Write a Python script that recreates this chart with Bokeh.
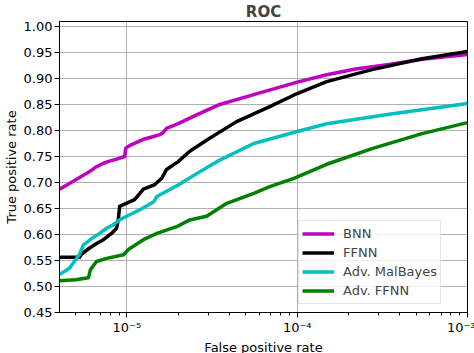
from bokeh.plotting import figure
from bokeh.models import FixedTicker, PrintfTickFormatter, Legend, LegendItem, Range1d
from bokeh.embed import file_html
from bokeh.resources import INLINE

# ---- data ----
bnn_fpr = [4.02e-6, 4.6e-6, 5.3e-6, 6.04e-6, 6.6e-6, 7.29e-6, 7.9e-6, 8.7e-6, 9.7e-6, 9.85e-6,
           1.05e-5, 1.25e-5, 1.42e-5, 1.56e-5, 1.62e-5, 1.71e-5, 2.0e-5, 2.57e-5, 3.51e-5,
           5.56e-5, 1.0e-4, 1.49e-4, 2.2e-4, 3.46e-4, 5.41e-4, 1.0e-3]
bnn_tpr = [0.687, 0.698, 0.710, 0.721, 0.730, 0.737, 0.741, 0.745, 0.750, 0.766,
           0.772, 0.783, 0.788, 0.792, 0.795, 0.804, 0.813, 0.830, 0.850,
           0.869, 0.893, 0.907, 0.918, 0.927, 0.937, 0.946]

ffnn_fpr = [4.02e-6, 5.27e-6, 5.4e-6, 6.04e-6, 6.6e-6, 7.29e-6, 8.13e-6, 8.69e-6, 8.9e-6, 9.06e-6,
            1.11e-5, 1.25e-5, 1.46e-5, 1.6e-5, 1.71e-5, 2.0e-5, 2.34e-5, 3.06e-5, 4.41e-5,
            6.9e-5, 1.0e-4, 1.49e-4, 2.75e-4, 5.41e-4, 1.0e-3]
ffnn_tpr = [0.556, 0.556, 0.562, 0.574, 0.582, 0.590, 0.602, 0.612, 0.628, 0.654,
            0.667, 0.687, 0.696, 0.708, 0.725, 0.740, 0.760, 0.785, 0.817,
            0.846, 0.871, 0.894, 0.917, 0.938, 0.952]

malb_fpr = [4.02e-6, 4.6e-6, 5.27e-6, 5.56e-6, 6.2e-6, 6.91e-6, 7.6e-6, 8.35e-6, 9.06e-6, 9.96e-6,
            1.2e-5, 1.44e-5, 1.5e-5, 2.0e-5, 2.57e-5, 3.37e-5, 5.56e-5, 1.0e-4, 1.49e-4,
            3.46e-4, 1.0e-3]
malb_tpr = [0.523, 0.535, 0.562, 0.580, 0.592, 0.602, 0.612, 0.619, 0.628, 0.635,
            0.648, 0.663, 0.673, 0.695, 0.717, 0.740, 0.775, 0.798, 0.813,
            0.831, 0.852]

affnn_fpr = [4.02e-6, 5.0e-6, 5.95e-6, 6.1e-6, 6.63e-6, 7.6e-6, 9.56e-6, 1.02e-5, 1.25e-5,
             1.5e-5, 1.96e-5, 2.34e-5, 2.94e-5, 3.86e-5, 5.56e-5, 6.9e-5, 9.56e-5, 1.49e-4,
             2.75e-4, 5.41e-4, 1.0e-3]
affnn_tpr = [0.511, 0.513, 0.517, 0.532, 0.548, 0.554, 0.561, 0.571, 0.590,
             0.602, 0.615, 0.628, 0.635, 0.660, 0.679, 0.692, 0.708, 0.735,
             0.765, 0.794, 0.815]

series_names = ["BNN", "FFNN", "Adv. MalBayes", "Adv. FFNN"]
series_colors = ["#bf00bf", "#000000", "#00bfbf", "#008000"]

x_major = [1e-5, 1e-4, 1e-3]
x_major_labels = ["10\u207b\u2075", "10\u207b\u2074", "10\u207b\u00b3"]
y_ticks = [0.45, 0.50, 0.55, 0.60, 0.65, 0.70, 0.75, 0.80, 0.85, 0.90, 0.95, 1.00]

FONT = "DejaVu Sans"

p = figure(frame_width=408, frame_height=291, x_axis_type="log",
           x_range=Range1d(4.02e-6, 1.0e-3), y_range=Range1d(0.45, 1.0095),
           output_backend="svg", toolbar_location=None, title="ROC",
           min_border_left=58, min_border_right=8, min_border_top=20, min_border_bottom=40)

p.title.text_font = FONT
p.title.text_font_size = "15px"
p.title.text_font_style = "bold"
p.title.align = "center"
p.title.standoff = 1
p.title.offset = 0

minor = []
for d in [1e-6, 1e-5, 1e-4]:
    for k in range(2, 10):
        minor.append(k * d)
p.xaxis.ticker = FixedTicker(ticks=x_major, minor_ticks=minor)
p.xaxis.major_label_overrides = {t: l for t, l in zip(x_major, x_major_labels)}
p.yaxis.ticker = FixedTicker(ticks=y_ticks)
p.yaxis.formatter = PrintfTickFormatter(format="%.2f")

for ax in [p.xaxis[0], p.yaxis[0]]:
    ax.major_label_text_font = FONT
    ax.major_label_text_font_size = "13px"
    ax.major_label_text_color = "black"
    ax.axis_label_text_font = FONT
    ax.axis_label_text_font_size = "13px"
    ax.axis_label_text_font_style = "normal"
    ax.axis_label_text_color = "black"
    ax.axis_line_color = "black"
    ax.major_tick_line_color = "black"
    ax.minor_tick_line_color = "black"
    ax.major_tick_out = 5
    ax.major_tick_in = 0
    ax.minor_tick_out = 3
    ax.minor_tick_in = 0
    ax.major_label_standoff = 2

p.xaxis.axis_label = "False positive rate"
p.yaxis.axis_label = "True positive rate"
p.yaxis.minor_tick_line_color = None
p.xaxis.axis_label_standoff = 2
p.yaxis.axis_label_standoff = 2

p.xgrid.grid_line_color = "#b0b0b0"
p.ygrid.grid_line_color = "#b0b0b0"
p.xgrid.grid_line_width = 1
p.ygrid.grid_line_width = 1
p.outline_line_color = "black"
p.outline_line_width = 1
p.background_fill_color = "white"
p.border_fill_color = "white"

data = [(bnn_fpr, bnn_tpr), (ffnn_fpr, ffnn_tpr), (malb_fpr, malb_tpr), (affnn_fpr, affnn_tpr)]
items = []
for (xs, ys), name, col in zip(data, series_names, series_colors):
    r = p.line(xs, ys, line_color=col, line_width=3.5, line_join="round")
    items.append(LegendItem(label=name, renderers=[r]))

legend = Legend(items=items, location=(239, 8))
legend.label_text_font = FONT
legend.label_text_font_size = "13px"
legend.glyph_width = 32
legend.glyph_height = 19
legend.label_height = 19
legend.label_standoff = 9
legend.spacing = 0
legend.padding = 3
legend.margin = 0
legend.border_line_color = "#cccccc"
legend.background_fill_alpha = 0.8
p.add_layout(legend, "center")

open("out.html", "w").write(file_html(p, INLINE))
